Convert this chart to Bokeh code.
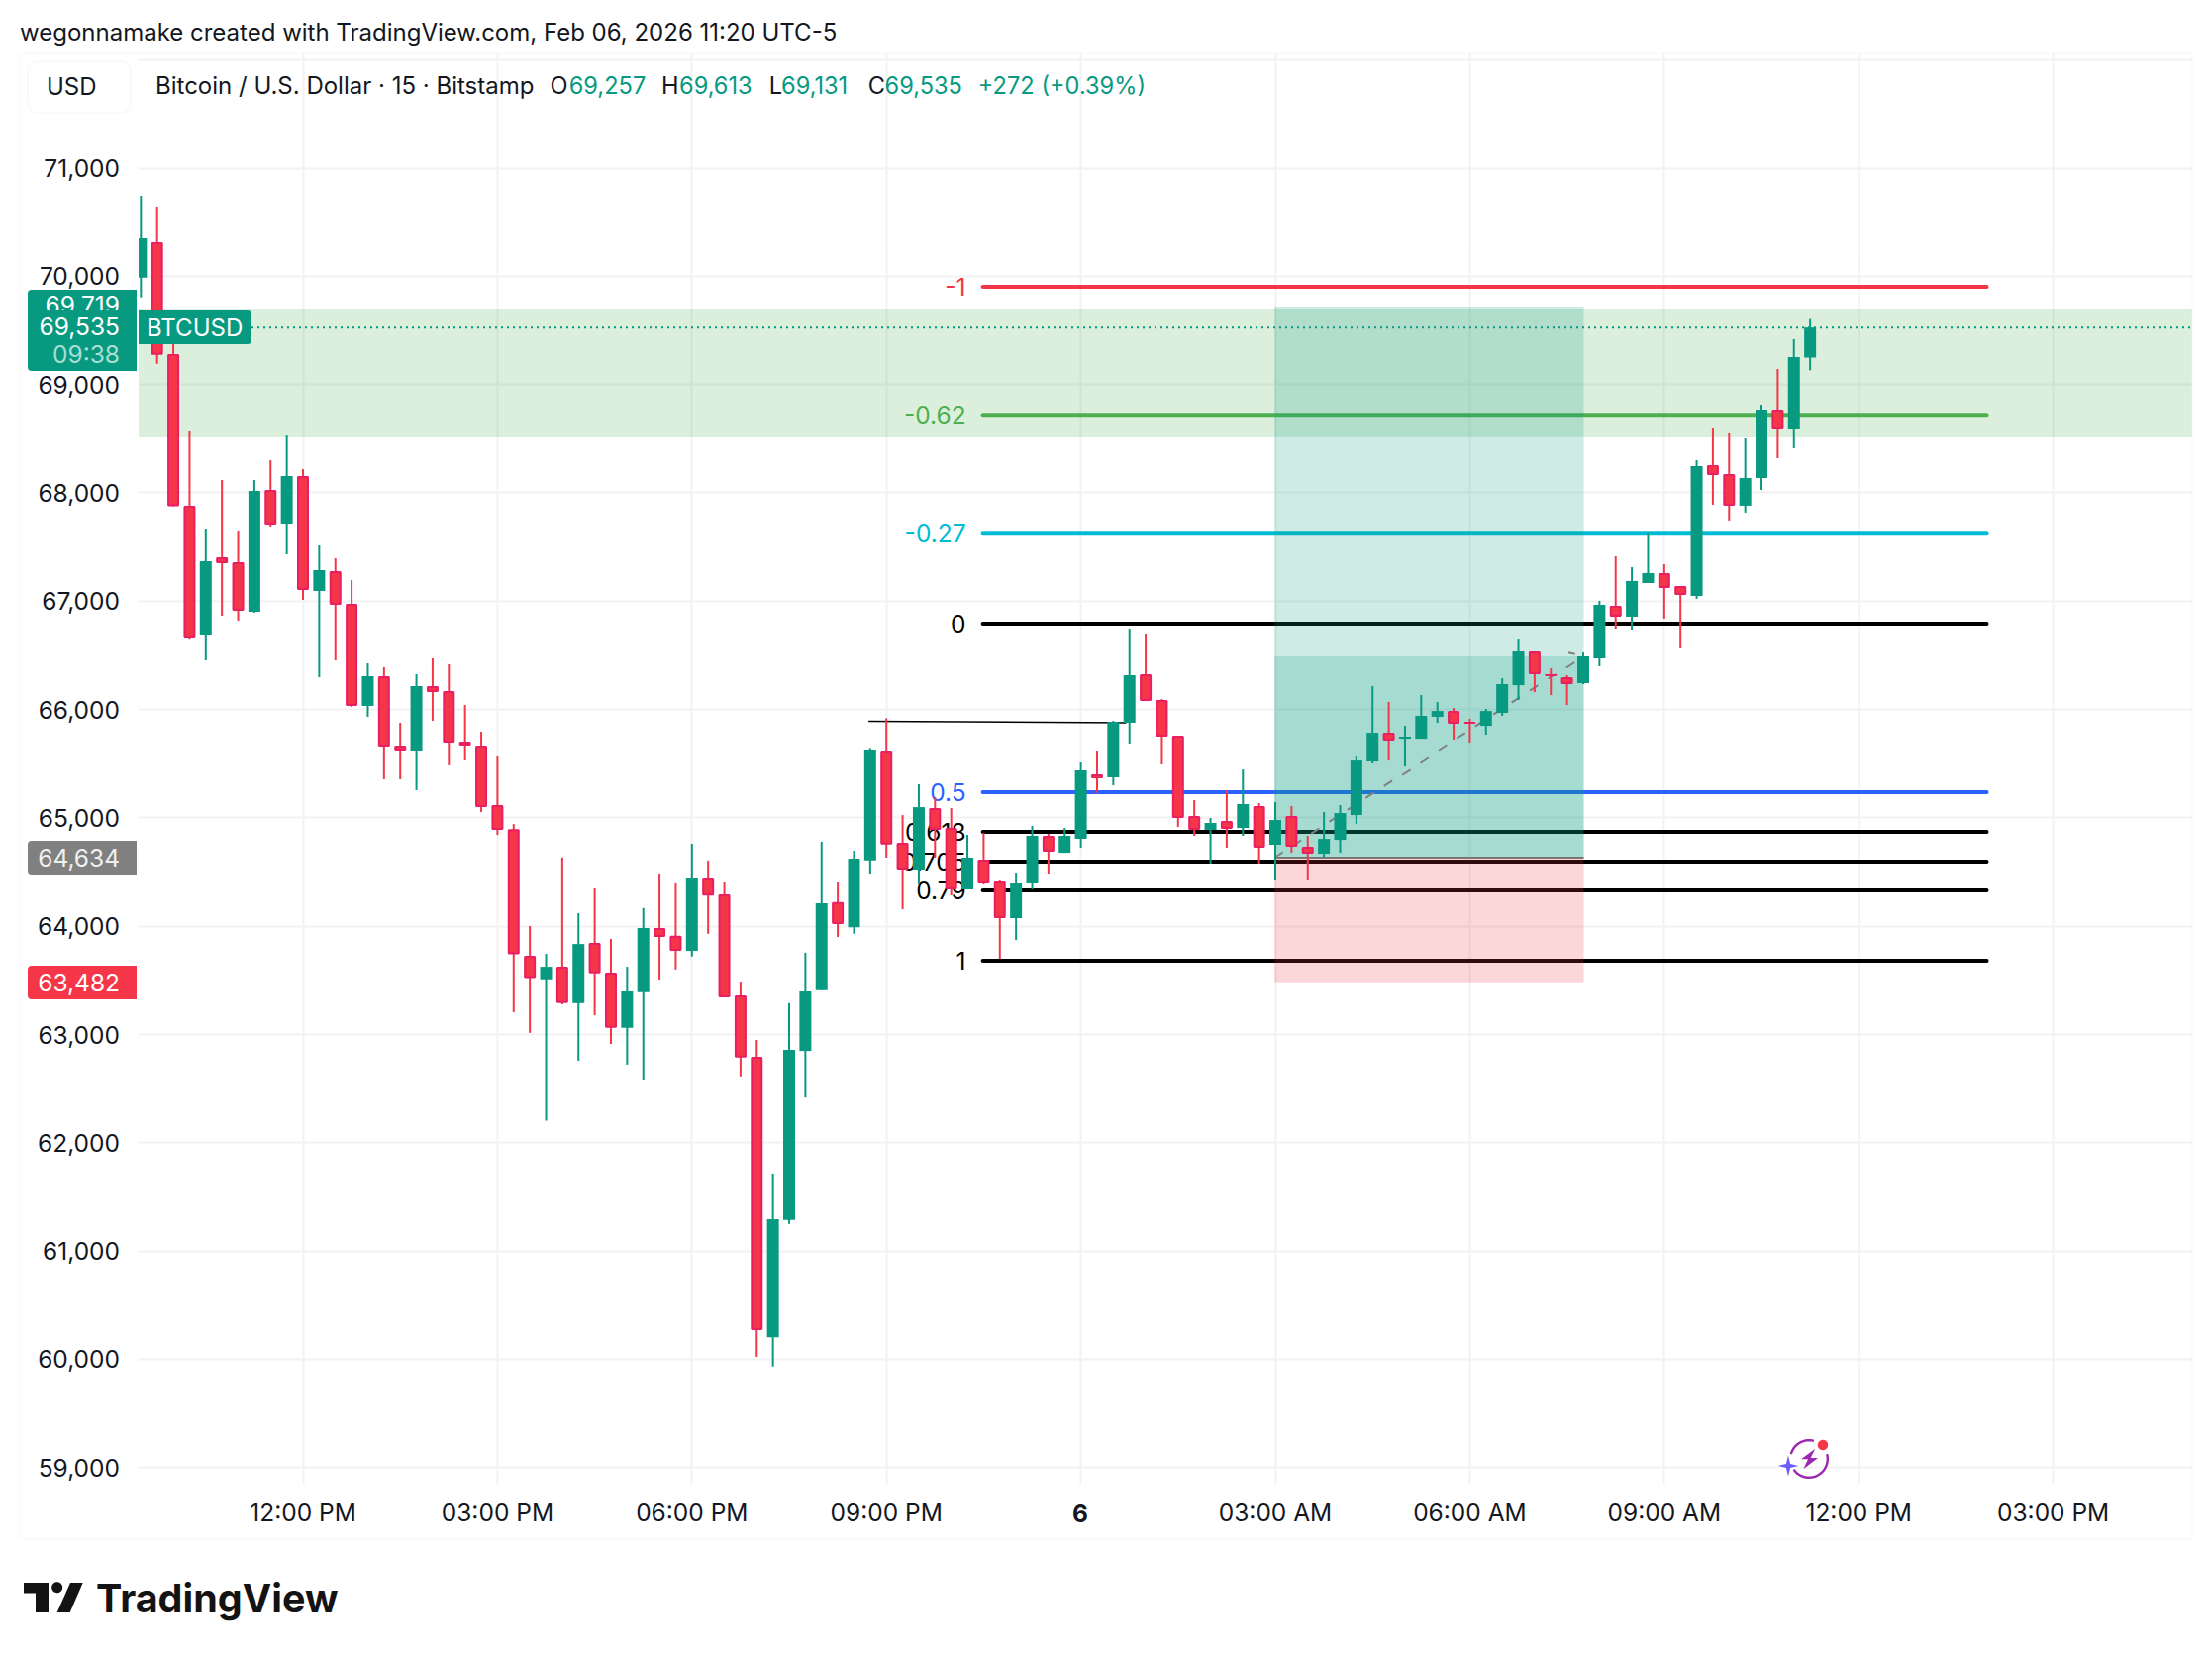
import numpy as np
from bokeh.plotting import figure
from bokeh.models import (Range1d, FixedTicker, NumeralTickFormatter, Label, BoxAnnotation,
                          PolyAnnotation, ColumnDataSource)
from bokeh.core.properties import value
from bokeh.embed import file_html
from bokeh.resources import INLINE

FONT = "Inter"
INK = "#131722"
UP = "#089981"
DOWN = "#F43648"
DOWN_EDGE = "#E91E63"

first_bar = -10
opens = [69987,70323,69289,67881,66691,67414,67368,66902,68027,67716,68155,67094,67277,66975,66033,66307,65667,65621,66216,66170,65703,65667,65118,64896,63727,63510,63626,63290,63847,63572,63062,63391,63984,63912,63774,64451,64295,63362,62794,60204,61286,62848,63409,64223,63991,64608,65621,64770,64523,65090,64907,64340,64614,64413,64075,64395,64834,64678,64806,65410,65383,65877,66325,66087,65758,65017,64889,64971,64907,65108,64752,65017,64733,64669,64797,65026,65529,65785,65730,65730,65932,65986,65886,65849,65968,66224,66545,66334,66298,66243,66481,66957,66856,67167,67259,67140,67048,68265,68174,67881,68137,68768,68594,69257]
highs = [70744,70643,69450,68576,67670,68118,67652,68118,68311,68539,68219,67524,67405,67194,66435,66399,65877,66335,66481,66426,66042,65795,65575,64943,64002,63745,64635,64121,64349,63883,63626,64169,64487,64396,64762,64606,64404,63489,62950,61716,63290,63756,64780,64404,64697,65645,65919,65026,65310,65191,65090,64843,64861,64431,64495,64925,64852,64907,65520,65621,65895,66746,66700,66096,65758,65163,64999,65255,65456,65136,65145,65108,64834,65053,65118,65575,66215,66069,65849,66133,66069,66014,65913,66005,66288,66654,66545,66389,66316,66535,67003,67423,67323,67634,67350,67140,68311,68603,68558,68512,68814,69143,69427,69613]
lows = [69804,69191,67875,66652,66463,66865,66819,66893,67688,67441,67012,66298,66463,66024,65932,65356,65356,65255,65895,65493,65539,65054,64843,63206,63015,62204,63279,62758,63177,62913,62722,62584,63507,63601,63720,63930,63344,62613,60023,59933,61250,62418,63409,63901,63930,64486,64633,64157,64386,64633,64285,64340,64386,63700,63873,64340,64486,64678,64724,65227,65300,65685,66078,65502,64916,64834,64578,64724,64834,64578,64431,64678,64431,64633,64678,64944,65511,65538,65483,65730,65877,65721,65694,65767,65941,66087,66160,66133,66041,66234,66408,66746,66737,67167,66838,66573,67021,67890,67744,67817,68027,68329,68421,69131]
closes = [70360,69283,67875,66664,67377,67359,66911,68018,67707,68155,67103,67286,66966,66033,66307,65658,65621,66216,66161,65694,65667,65100,64889,63742,63521,63626,63290,63836,63564,63062,63398,63984,63901,63774,64451,64284,63344,62787,60269,61293,62859,63398,64212,64020,64624,65630,64755,64523,65099,64889,64340,64633,64395,64075,64395,64834,64687,64834,65447,65365,65886,66316,66078,65749,64999,64889,64953,64898,65127,64724,64980,64733,64669,64806,65044,65538,65785,65712,65749,65941,65986,65868,65868,65986,66234,66545,66334,66307,66234,66499,66966,66856,67186,67259,67122,67058,68247,68164,67881,68137,68768,68594,69262,69535]

fib_levels = ["-1", "-0.62", "-0.27", "0", "0.5", "0.618", "0.705", "0.79", "1"]
fib_prices = [69903, 68721, 67632, 66792, 65236, 64870, 64596, 64331, 63681]
fib_colors = ["#F23645", "#4CAF50", "#00BCD4", "#000000", "#2962FF", "#000000", "#000000", "#000000", "#000000"]
fib_start, fib_end = 41.95, 103.9

zone_low, zone_high = 68521, 69701
entry_price, stop_price, target_price, reached_price = 64633, 63482, 69719, 66499
position_start, position_end = 59.95, 79.03
last_price = 69535
trend_x = [34.9, 50.8]
trend_y = [65891, 65877]

price_ticks = [59000, 60000, 61000, 62000, 63000, 64000, 65000, 66000, 67000, 68000, 69000, 70000, 71000]
grid_prices = price_ticks + [72000]
time_ticks = [0, 12, 24, 36, 48, 60, 72, 84, 96, 108]
time_labels = ["12:00 PM", "03:00 PM", "06:00 PM", "09:00 PM", "6", "03:00 AM", "06:00 AM", "09:00 AM", "12:00 PM", "03:00 PM"]

W, H = 2230, 1670
L, R, TOP, BOT = 140, 2214, 54, 1498   # pane edges, in reference pixels
DX, DY = -0.5, -0.5                     # offset of this page against the reference


def x_at(X):
    return (X - 306) / 16.367


def y_at(Y):
    return 71000 - (Y - 170) * 9.148


p = figure(width=W, height=H, output_backend="svg", toolbar_location=None,
           x_range=Range1d(x_at(-DX), x_at(W - DX)), y_range=Range1d(y_at(H - DY), y_at(-DY)),
           min_border=0, min_border_left=0, min_border_right=0, min_border_top=0, min_border_bottom=0,
           outline_line_color=None, background_fill_color="white")

ax = p.yaxis[0]
ax.fixed_location = x_at(L)
ax.level = "overlay"
ax.ticker = FixedTicker(ticks=price_ticks)
ax.formatter = NumeralTickFormatter(format="0,0")
ax.axis_line_color = None
ax.major_tick_line_color = None
ax.minor_tick_line_color = None
ax.major_tick_out = 0
ax.major_tick_in = 0
ax.major_label_text_font = FONT
ax.major_label_text_font_size = "24.5px"
ax.major_label_text_color = INK
ax.major_label_standoff = 19

bx = p.xaxis[0]
bx.fixed_location = y_at(BOT)
bx.level = "overlay"
bx.ticker = FixedTicker(ticks=time_ticks)
bx.major_label_overrides = {t: ("" if s == "6" else s) for t, s in zip(time_ticks, time_labels)}
bx.axis_line_color = None
bx.major_tick_line_color = None
bx.minor_tick_line_color = None
bx.major_tick_out = 0
bx.major_tick_in = 0
bx.major_label_text_font = FONT
bx.major_label_text_font_size = "24.5px"
bx.major_label_text_color = INK
bx.major_label_standoff = 14

GRID = "#F2F2F2"
p.xgrid[0].ticker = FixedTicker(ticks=time_ticks)
p.ygrid[0].ticker = FixedTicker(ticks=grid_prices)
p.xgrid[0].grid_line_color = GRID
p.ygrid[0].grid_line_color = GRID
p.xgrid[0].grid_line_width = 2
p.ygrid[0].grid_line_width = 2

# green supply zone
p.quad(left=x_at(L), right=x_at(R), bottom=zone_low, top=zone_high,
       fill_color="#4CAF50", fill_alpha=0.2, line_color=None)

# fib levels
for lv, pr, c in zip(fib_levels, fib_prices, fib_colors):
    p.line([fib_start, fib_end], [pr, pr], line_color=c, line_width=4, line_cap="round")
fib_src = ColumnDataSource(dict(x=[41.85 - 0.94] * len(fib_levels), y=fib_prices, t=fib_levels, c=fib_colors))
p.text(x="x", y="y", text="t", text_color="c", source=fib_src, text_align="right", text_baseline="middle",
       text_font=value(FONT), text_font_size="24.5px")

p.line(trend_x, trend_y, line_color="#000000", line_width=1.5)

# long position tool
p.quad(left=position_start, right=position_end, bottom=entry_price, top=target_price,
       fill_color=UP, fill_alpha=0.2, line_color=None)
p.quad(left=position_start, right=position_end, bottom=entry_price, top=reached_price,
       fill_color=UP, fill_alpha=0.2, line_color=None)
p.quad(left=position_start, right=position_end, bottom=stop_price, top=entry_price,
       fill_color="#F23645", fill_alpha=0.2, line_color=None)
p.line([position_start, position_end], [entry_price, entry_price], line_color="#787878", line_width=2)
p.line([position_start, position_end], [entry_price, reached_price], line_color="#808080",
       line_width=2, line_dash="10 12")
p.line([78.08, 78.5], [66534, 66520], line_color="#808080", line_width=2)

# last price line
p.line([x_at(254), x_at(R)], [last_price, last_price], line_color=UP, line_width=2, line_dash="2 4")

# candles
bars = list(range(first_bar, first_bar + len(opens)))
px_price = 9.148
up = [i for i in range(len(opens)) if closes[i] >= opens[i]]
dn = [i for i in range(len(opens)) if closes[i] < opens[i]]
body_w = 12 / 16.367
inner_w = 10 / 16.367
p.segment(x0=[bars[i] for i in up], x1=[bars[i] for i in up], y0=[lows[i] for i in up], y1=[highs[i] for i in up],
          line_color=UP, line_width=2)
p.segment(x0=[bars[i] for i in dn], x1=[bars[i] for i in dn], y0=[lows[i] for i in dn], y1=[highs[i] for i in dn],
          line_color=DOWN, line_width=2)
p.vbar(x=[bars[i] for i in up], width=body_w, bottom=[opens[i] for i in up], top=[closes[i] for i in up],
       fill_color=UP, line_color=None)
p.vbar(x=[bars[i] for i in dn], width=inner_w, bottom=[closes[i] + px_price for i in dn],
       top=[opens[i] - px_price for i in dn], fill_color=DOWN, line_color=DOWN_EDGE, line_width=2)


def T(text, X, Y, size, color=INK, align="left", style="normal", font=FONT):
    p.add_layout(Label(x=X + DX, y=H - Y - DY, x_units="screen", y_units="screen", text=text,
                       text_font=font, text_font_size=f"{size}px", text_color=color, text_align=align,
                       text_baseline="middle", text_font_style=style))


def B(x0, y0, x1, y1, fill=None, line=None, lw=0, radius=0):
    p.add_layout(BoxAnnotation(left=x0 + DX, right=x1 + DX, top=H - y0 - DY, bottom=H - y1 - DY,
                               left_units="screen", right_units="screen", top_units="screen", bottom_units="screen",
                               fill_color=fill, fill_alpha=1 if fill else 0, line_color=line, line_width=lw,
                               border_radius=radius, level="annotation"))


def P(xs, ys, fill):
    p.add_layout(PolyAnnotation(xs=[float(x + DX) for x in xs], ys=[float(H - y - DY) for y in ys],
                                xs_units="screen", ys_units="screen",
                                fill_color=fill, fill_alpha=1, line_color=None, level="annotation"))


# white surround of the pane
B(-2, -2, L, H + 2, "white")
B(R, -2, W + 2, H + 2, "white")
B(-2, -2, W + 2, TOP, "white")
B(-2, BOT, W + 2, H + 2, "white")

# outer panel border
B(20, 54, R, 1554, None, "#F2F2F2", 2.5)

# tick that carries the day number
T("6", 1091, 1527.5, 24.5, INK, "center", "bold")

# header
T("wegonnamake created with TradingView.com, Feb 06, 2026 11:20 UTC-5", 20, 32, 24)
B(28, 62, 132, 114, "white", "#F0F0F0", 2, 10)
T("USD", 47, 87, 24)
T("Bitcoin / U.S. Dollar · 15 · Bitstamp", 157, 86, 24)
for s, x, c in [("O", 555.5, INK), ("69,257", 574.7, UP), ("H", 668, INK), ("69,613", 686, UP),
                ("L", 776.7, INK), ("69,131", 789, UP), ("C", 876.7, INK), ("69,535", 893.5, UP),
                ("+272 (+0.39%)", 987.8, UP)]:
    T(s, x, 86, 23.6, c)

# price tags
B(28, 849, 138, 883, "#808080", None, 0, {"top_left": 4, "bottom_left": 4, "top_right": 0, "bottom_right": 0})
T("64,634", 121, 866, 24.5, "#F0F0F0", "right")
B(28, 975, 138, 1009, "#F43648", None, 0, {"top_left": 4, "bottom_left": 4, "top_right": 0, "bottom_right": 0})
T("63,482", 121, 992, 24.5, "white", "right")
B(28, 293, 138, 330, UP, None, 0, {"top_left": 4, "bottom_left": 0, "top_right": 0, "bottom_right": 0})
T("69,719", 121, 308, 24.5, "white", "right")
B(28, 313, 138, 375, UP, None, 0, {"top_left": 0, "bottom_left": 4, "top_right": 0, "bottom_right": 0})
T("69,535", 121, 329, 24.5, "white", "right")
T("09:38", 121, 357, 24.5, "#A9DED3", "right")
B(140, 313, 254, 347, UP, None, 0, {"top_left": 0, "bottom_left": 0, "top_right": 4, "bottom_right": 4})
T("BTCUSD", 148, 330, 24, "white")

# wordmark
P([24, 49, 49, 36, 36, 24], [1598, 1598, 1628, 1628, 1608.5, 1608.5], "#131313")
t = np.linspace(0, 2 * np.pi, 40)
P(57.7 + 5.5 * np.cos(t), 1602.7 + 5.5 * np.sin(t), "#131313")
P([71, 83.7, 70.7, 57.7], [1598, 1598, 1628, 1628], "#131313")
T("TradingView", 97, 1614, 39.5, "#131313", "left", "bold")

# sparkle icon
cx, cy = 1827, 1473
for a0, a1 in [(75, 165), (215, 375)]:
    a = np.radians(np.linspace(a0, a1, 40))
    xo = cx + 20 * np.cos(a)
    yo = cy - 20 * np.sin(a)
    xi = cx + 17.6 * np.cos(a[::-1])
    yi = cy - 17.6 * np.sin(a[::-1])
    P(list(xo) + list(xi), list(yo) + list(yi), "#9C27B0")
ox, oy = 1750, 1420
P([ox + v / 3 for v in (250, 207, 228, 214, 258, 236)], [oy + v / 3 for v in (128, 160, 160, 190, 156, 156)], "#9C27B0")
P(1841 + 5.2 * np.cos(t), 1459 + 5.2 * np.sin(t), "#F43648")
for r0, r1, c in [(13.5, 5, "white"), (10.5, 3, "#6A5CFF")]:
    a = np.radians(np.arange(0, 360, 45))
    rr = np.array([r0, r1] * 4)
    P(1806 + rr * np.cos(a), 1480 + rr * np.sin(a), c)

open("out.html", "w").write(file_html(p, INLINE))
